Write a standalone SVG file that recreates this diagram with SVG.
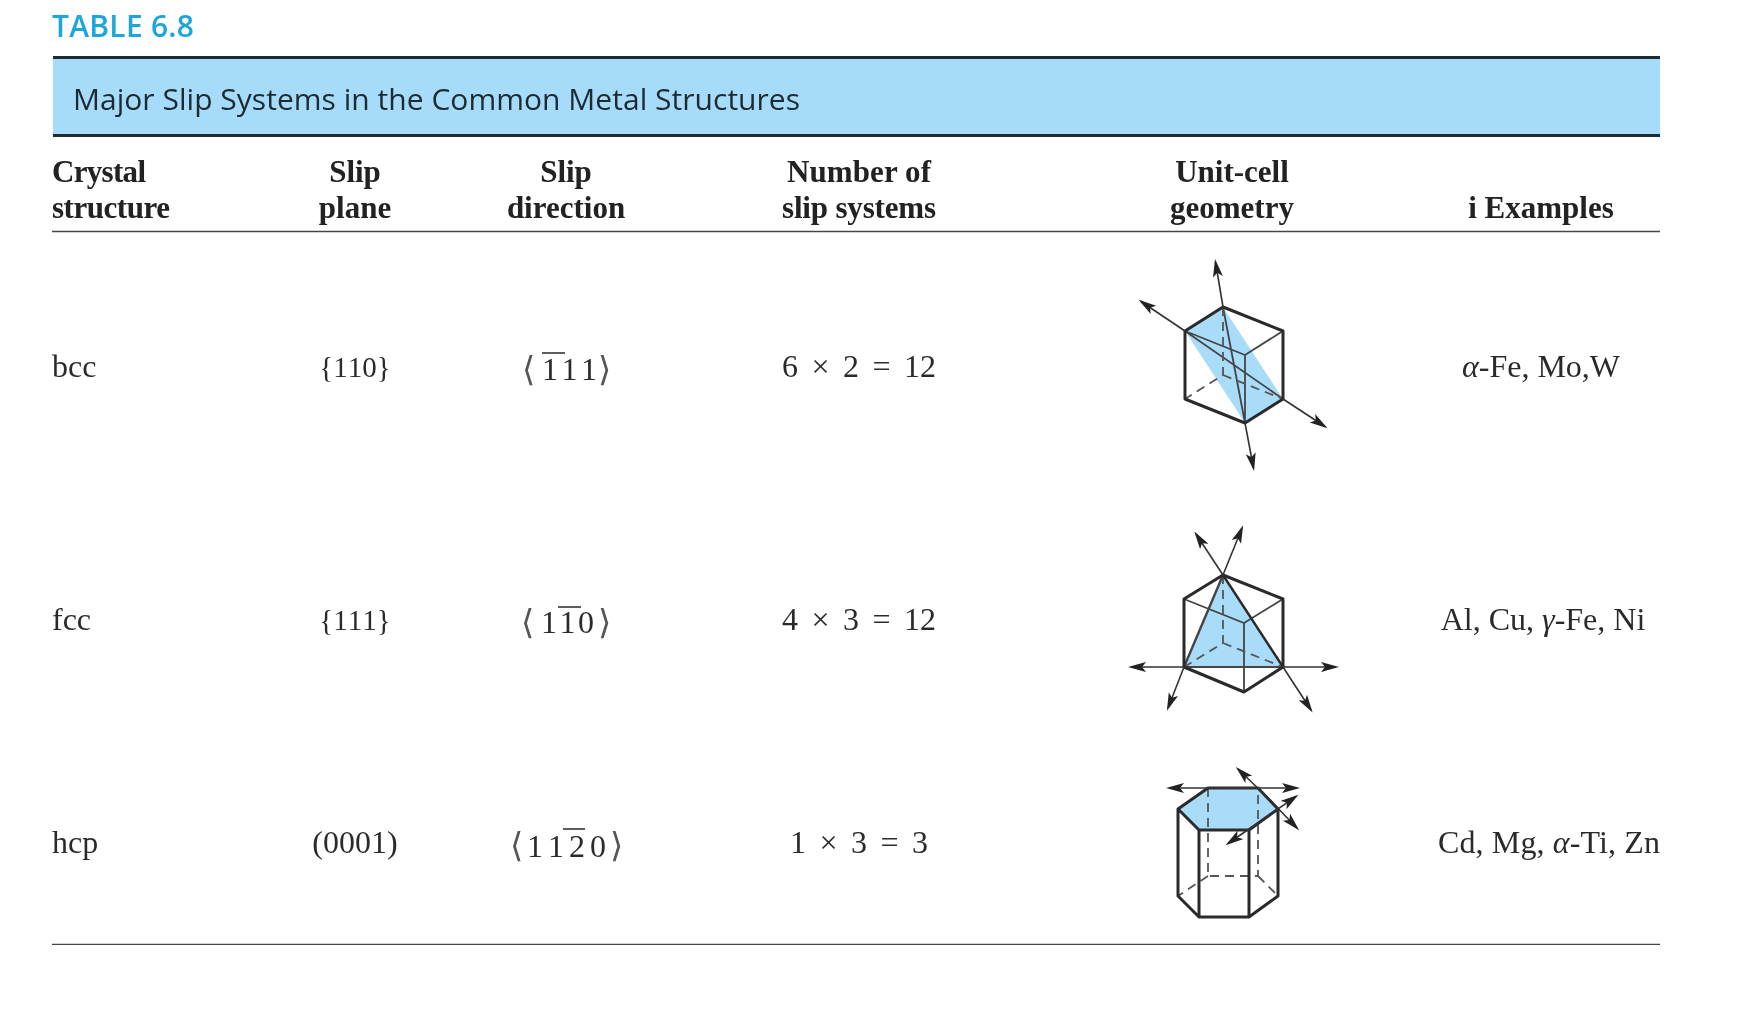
<svg xmlns="http://www.w3.org/2000/svg" width="1738" height="1018" viewBox="0 0 1738 1018">
<style>
text{font-family:"Liberation Serif","Times New Roman",serif;font-size:32px;fill:#2b2b2b}
.b{font-weight:bold;fill:#222;font-size:31px}
.m{text-anchor:middle}
.s{font-family:"Open Sans","Noto Sans",sans-serif}
.w{word-spacing:5.500px}
.k{font-kerning:none}
.c{font-size:29px}
.br{font-family:"DejaVu Sans",sans-serif;font-size:34px;fill:#555}
.o{fill:none;stroke:#2a2a2a;stroke-width:3;stroke-linejoin:round;stroke-linecap:round}
.i{fill:none;stroke:#444;stroke-width:1.8}
.d{fill:none;stroke:#555;stroke-width:1.8;stroke-dasharray:9 6}
.a{fill:none;stroke:#333;stroke-width:1.6;marker-end:url(#h)}
.f{fill:#a8dcf8}
.r{stroke:#1c2a33;stroke-width:3}
.t{stroke:#444;stroke-width:1.6}
.ov{stroke:#333;stroke-width:1.6}
</style>
<defs>
<marker id="h" markerUnits="userSpaceOnUse" markerWidth="20" markerHeight="12" refX="15" refY="5" orient="auto"><path d="M0 0L18 5L0 10L4 5Z" fill="#222"/></marker>
<filter id="soft" x="0" y="0" width="100%" height="100%"><feGaussianBlur stdDeviation="0.500"/></filter>
</defs>
<rect width="1738" height="1018" fill="#fff"/>
<g filter="url(#soft)">
<g id="title">
<text class="s" x="52" y="37" style="font-size:30px;fill:#1ba6dc;font-weight:600" textLength="142">TABLE 6.8</text>
</g>
<g id="band">
<rect x="53" y="58" width="1607" height="77" fill="#a6dcfa"/>
<line class="r" x1="53" y1="57.500" x2="1660" y2="57.500"/>
<line class="r" x1="53" y1="135.500" x2="1660" y2="135.500"/>
<text class="s" x="73" y="110" style="font-size:30px;fill:#1c2a33" textLength="727">Major Slip Systems in the Common Metal Structures</text>
</g>
<g id="header">
<text class="b" x="52" y="182" textLength="94">Crystal</text>
<text class="b" x="52" y="218" textLength="118">structure</text>
<text class="b m" x="355" y="182">Slip</text>
<text class="b m" x="355" y="218">plane</text>
<text class="b m" x="566" y="182">Slip</text>
<text class="b m" x="566" y="218">direction</text>
<text class="b m" x="859" y="182" textLength="144">Number of</text>
<text class="b m" x="859" y="218" textLength="154">slip systems</text>
<text class="b m" x="1232" y="182">Unit-cell</text>
<text class="b m" x="1232" y="218">geometry</text>
<text class="b m" x="1541" y="218">i Examples</text>
<line class="t" x1="52" y1="231.500" x2="1660" y2="231.500"/>
</g>
<g id="row-bcc">
<text x="52" y="376.500">bcc</text>
<text class="m k c" x="355" y="376.500">{110}</text>
<text class="br" x="522" y="381">⟨</text>
<text class="k" x="542" y="380" style="letter-spacing:3.500px">111</text>
<line class="ov" x1="542" y1="353" x2="565" y2="353"/>
<text class="br" x="598" y="381">⟩</text>
<text class="m w" x="859" y="376.500">6 × 2 = 12</text>
<text class="m" x="1541" y="376.500"><tspan font-style="italic">α</tspan>-Fe, Mo,W</text>
</g>
<g id="row-fcc">
<text x="52" y="630">fcc</text>
<text class="m k c" x="355" y="630">{111}</text>
<text class="br" x="521" y="634">⟨</text>
<text class="k" x="541" y="633" style="letter-spacing:2.500px">110</text>
<line class="ov" x1="558" y1="607" x2="581" y2="607"/>
<text class="br" x="598" y="634">⟩</text>
<text class="m w" x="859" y="630">4 × 3 = 12</text>
<text class="m" x="1543" y="630">Al, Cu, <tspan font-style="italic">γ</tspan>-Fe, Ni</text>
</g>
<g id="row-hcp">
<text x="52" y="853">hcp</text>
<text class="m k" x="355" y="853">(0001)</text>
<text class="br" x="510" y="857">⟨</text>
<text class="k" x="527" y="857" style="letter-spacing:5px">1120</text>
<line class="ov" x1="563" y1="829" x2="585" y2="829"/>
<text class="br" x="610" y="857">⟩</text>
<text class="m w" x="859" y="853">1 × 3 = 3</text>
<text x="1438" y="853" textLength="222">Cd, Mg, <tspan font-style="italic">α</tspan>-Ti, Zn</text>
<line class="t" x1="52" y1="944.500" x2="1660" y2="944.500"/>
</g>
<g id="cell-bcc">
<path class="f" d="M1223 307L1185 331L1245 423L1283 399Z"/>
<path class="i" d="M1223 307L1245 423L1245 355L1185 331L1283 399M1245 355L1283 331"/>
<path class="d" d="M1223 307L1223 375L1185 399M1223 375L1283 399"/>
<path class="o" d="M1223 307L1283 331L1283 399L1245 423L1185 399L1185 331Z"/>
<path class="a" d="M1223 307L1215.500 262"/>
<path class="a" d="M1185 331L1141 301.500"/>
<path class="a" d="M1283 399L1325 426.500"/>
<path class="a" d="M1245 423L1253.500 468"/>
</g>
<g id="cell-fcc">
<path class="f" d="M1223 575L1184 667L1283 667Z"/>
<path class="i" d="M1184 599L1244 623L1283 599M1244 623L1244 692M1184 667L1283 667"/>
<path class="d" d="M1223 575L1223 643L1184 667M1223 643L1283 667"/>
<path class="i" d="M1223 575L1184 667" style="stroke-width:2.400"/>
<path class="o" d="M1223 575L1283 599L1283 667L1244 692L1184 667L1184 599Z"/>
<path class="o" d="M1223 575L1283 667" style="stroke-width:2.400"/>
<path class="a" d="M1223 575L1196 534"/>
<path class="a" d="M1223 575L1242 528"/>
<path class="a" d="M1184 667L1131 667"/>
<path class="a" d="M1283 667L1336 667"/>
<path class="a" d="M1184 667L1168 708"/>
<path class="a" d="M1283 667L1311 710"/>
</g>
<g id="cell-hcp">
<path class="f" d="M1208 788L1258 788L1278 809L1249 830L1199 830L1178 809Z"/>
<path class="d" d="M1208 788L1208 876L1258 876L1258 788M1208 876L1178 896M1258 876L1278 896"/>
<path class="o" d="M1208 788L1258 788L1278 809L1249 830L1199 830L1178 809ZM1178 809L1178 896L1199 917L1249 917L1278 896L1278 809M1199 830L1199 917M1249 830L1249 917"/>
<path class="a" d="M1233 788L1169 788"/>
<path class="a" d="M1233 788L1297 788"/>
<path class="a" d="M1268 798L1238 769"/>
<path class="a" d="M1268 798L1297 828"/>
<path class="a" d="M1262 820L1296 796.500"/>
<path class="a" d="M1262 820L1228 843.500"/>
</g>
</g>
</svg>
